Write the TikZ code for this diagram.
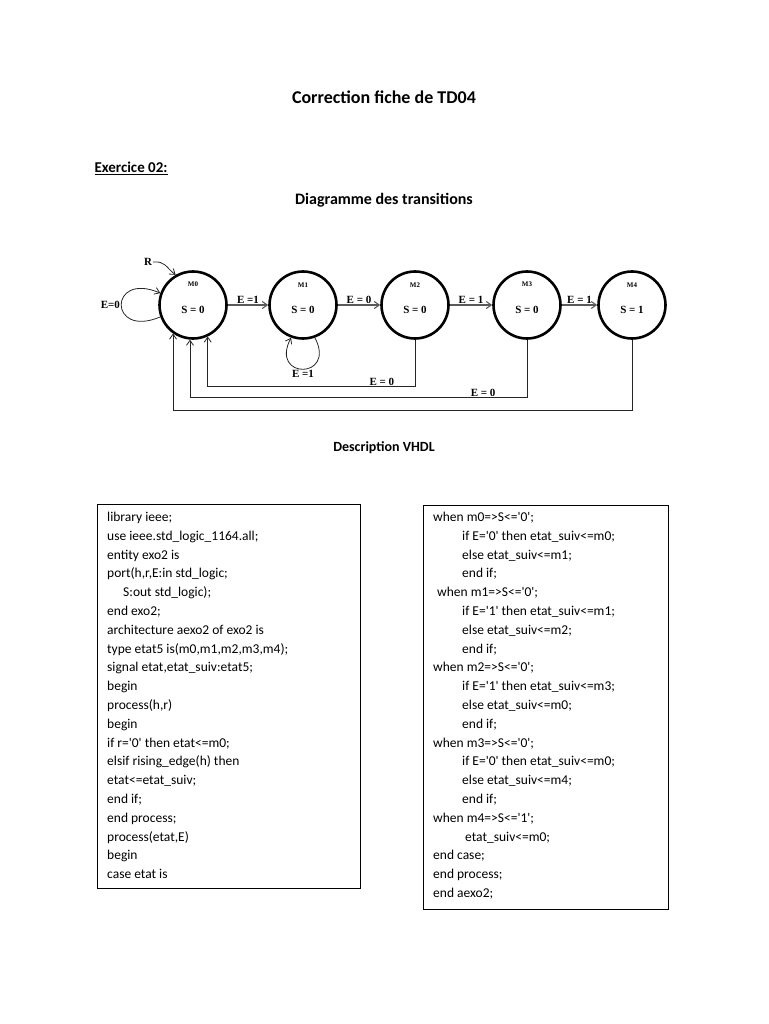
\documentclass[tikz,border=0pt]{standalone}
\usepackage{fontspec}
\setmainfont{Carlito}
\newfontfamily\codefont{Carlito}
\newfontfamily\timesfont{Liberation Serif}
\usetikzlibrary{arrows.meta, positioning}
\newcommand{\outv}[1]{\smash{\raisebox{-8.5pt}{#1}}}

\begin{document}
\begin{tikzpicture}[
    x=1pt, y=-1pt,
    >={Straight Barb[length=5pt, width=7pt]},
    head/.style={font=\bfseries\fontsize{18}{21}\selectfont},
    subhead/.style={font=\bfseries\fontsize{15}{18}\selectfont},
    state/.style={circle, draw, line width=2.6pt, minimum size=67pt, inner sep=0pt,
                  font=\timesfont\bfseries\fontsize{11}{13}\selectfont},
    mlab/.style={font=\timesfont\bfseries\fontsize{7}{8}\selectfont,
                 inner sep=0pt, label distance=-17pt},
    tlab/.style={font=\timesfont\bfseries\fontsize{11}{13}\selectfont, inner sep=1pt},
    fwd/.style={->, line width=1.1pt, draw=black!65},
    ret/.style={->, line width=0.8pt, draw=black!85},
    codebox/.style={draw, line width=0.8pt, inner sep=0pt},
    code/.style={font=\codefont\fontsize{13.5}{18.8}\selectfont, align=left,
                 inner sep=0pt, anchor=north west},
]
\useasboundingbox (0,0) rectangle (768,1024);

% headings
\node[head] (title) at (384,97) {Correction fiche de TD04};
\node[subhead, anchor=west] (exo) at (91,168) {\underline{Exercice 02:}};
\node[subhead, font=\bfseries\fontsize{16}{18}\selectfont] (diag) at (384,200) {Diagramme des transitions};
\node[subhead, font=\bfseries\fontsize{14}{18}\selectfont] (vhdl) at (384,448) {Description VHDL};

% states
\node[state, label={[mlab]above:M0}] (m0) at (193,305) {\outv{S = 0}};
\node[state, label={[mlab]above:M1}] (m1) at (303,305) {\outv{S = 0}};
\node[state, label={[mlab]above:M2}] (m2) at (415,305) {\outv{S = 0}};
\node[state, label={[mlab]above:M3}] (m3) at (527,305) {\outv{S = 0}};
\node[state, label={[mlab]above:M4}] (m4) at (632,305) {\outv{S = 1}};

\node[tlab] (rin) at (148,262) {R};
\draw[ret] (rin.east) .. controls +(12,-1) and +(-10,-8) .. (m0.120);

\draw[fwd] (m0) -- node[tlab, above]{E =1} (m1);
\draw[fwd] (m1) -- node[tlab, above]{E = 0} (m2);
\draw[fwd] (m2) -- node[tlab, above]{E = 1} (m3);
\draw[fwd] (m3) -- node[tlab, above]{E = 1} (m4);

% self loops
\draw[ret] (m0.200) .. controls +(-52,22) and +(-52,-22) .. node[tlab, left]{E=0} (m0.160);
\draw[ret] (m1.-70) .. controls +(22,42) and +(-22,42) .. node[tlab, below]{E =1} (m1.-110);

% back to M0
\draw[ret] (m2.south) -- ++(0,47) -| node[tlab, pos=0.08, above]{E = 0} (m0.-65);
\draw[ret] (m3.south) -- ++(0,58) -| node[tlab, pos=0.065, above]{E = 0} (m0.-95);
\draw[ret] (m4.south) -- ++(0,71) -| (m0.-125);

% code boxes
\node[codebox, minimum width=263pt, minimum height=384pt] (boxl) at (228.5,696) {};
\node[codebox, minimum width=245pt, minimum height=404pt] (boxr) at (545.5,707) {};

\node[code] (codel) at (107,512) {library ieee;\\
use ieee.std\_logic\_1164.all;\\
entity exo2 is\\
port(h,r,E:in std\_logic;\\
\hspace*{16pt}S:out std\_logic);\\
end exo2;\\
architecture aexo2 of exo2 is\\
type etat5 is(m0,m1,m2,m3,m4);\\
signal etat,etat\_suiv:etat5;\\
begin\\
process(h,r)\\
begin\\
if r='0' then etat<=m0;\\
elsif rising\_edge(h) then\\
etat<=etat\_suiv;\\
end if;\\
end process;\\
process(etat,E)\\
begin\\
case etat is};

\node[code] (coder) at (433,512) {when m0=>S<='0';\\
\hspace*{29pt}if E='0' then etat\_suiv<=m0;\\
\hspace*{29pt}else etat\_suiv<=m1;\\
\hspace*{29pt}end if;\\
\hspace*{4pt}when m1=>S<='0';\\
\hspace*{29pt}if E='1' then etat\_suiv<=m1;\\
\hspace*{29pt}else etat\_suiv<=m2;\\
\hspace*{29pt}end if;\\
when m2=>S<='0';\\
\hspace*{29pt}if E='1' then etat\_suiv<=m3;\\
\hspace*{29pt}else etat\_suiv<=m0;\\
\hspace*{29pt}end if;\\
when m3=>S<='0';\\
\hspace*{29pt}if E='0' then etat\_suiv<=m0;\\
\hspace*{29pt}else etat\_suiv<=m4;\\
\hspace*{29pt}end if;\\
when m4=>S<='1';\\
\hspace*{32pt}etat\_suiv<=m0;\\
end case;\\
end process;\\
end aexo2;};

\end{tikzpicture}
\end{document}
